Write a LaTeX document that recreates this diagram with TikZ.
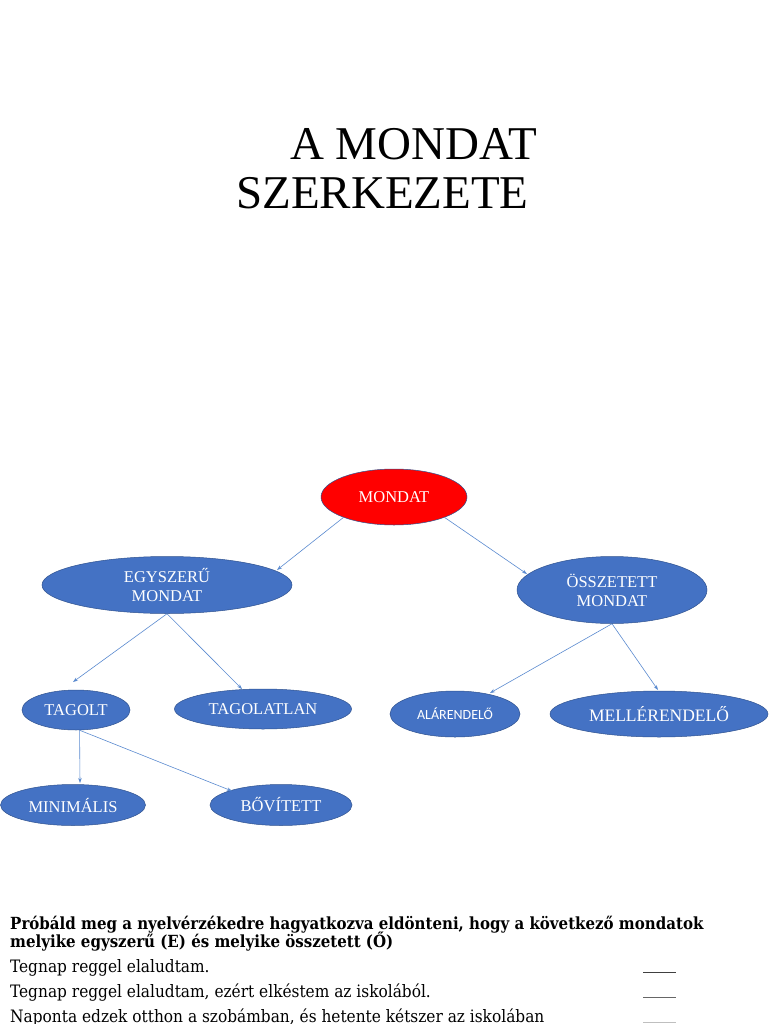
\documentclass[tikz,border=0pt]{standalone}
\usepackage{fontspec}
\setmainfont{Liberation Serif}
\newfontfamily\calib{Carlito}
\newfontfamily\slab{DejaVu Serif Condensed}
\usetikzlibrary{shapes.geometric,arrows.meta}
\definecolor{nodeblue}{HTML}{4472C4}
\definecolor{edgeblue}{HTML}{2F528F}
\definecolor{arrowblue}{HTML}{5B8BD0}
\tikzset{
  bubble/.style={ellipse, draw=edgeblue, line width=0.5pt, fill=nodeblue, text=white,
    inner sep=0pt, align=center, font=\fontsize{16.5}{19}\selectfont},
  link/.style={draw=arrowblue, line width=0.6pt, -{Stealth[length=5pt,width=3.5pt]}},
  title/.style={anchor=base west, inner sep=0pt, font=\fontsize{47}{50}\selectfont},
  boldline/.style={anchor=base west, inner sep=0pt, font=\slab\bfseries\fontsize{16.7}{19}\selectfont},
  plainline/.style={anchor=base west, inner sep=0pt, font=\slab\fontsize{17.1}{19}\selectfont},
  blank/.style={line width=1pt}
}
\begin{document}
\begin{tikzpicture}[x=1pt,y=-1pt]
\useasboundingbox (0,0) rectangle (768,1024);
\fill[white] (0,0) rectangle (768,1024);
% title
\node[title] (t1) at (290,160) {A MONDAT};
\node[title] (t2) at (236,209) {SZERKEZETE};
% nodes
\node[bubble, fill=red, minimum width=146pt, minimum height=56pt] (mondat) at (394,497) {MONDAT};
\node[bubble, minimum width=250pt, minimum height=57pt] (egy) at (167,585) {EGYSZERŰ\\MONDAT};
\node[bubble, minimum width=190pt, minimum height=67pt] (ossz) at (612,590) {ÖSSZETETT\\MONDAT};
\node[bubble, minimum width=108pt, minimum height=40pt] (tagolt) at (76,710) {TAGOLT};
\node[bubble, minimum width=177pt, minimum height=40pt] (tagolatlan) at (263,709) {TAGOLATLAN};
\node[bubble, minimum width=130pt, minimum height=46pt, font=\calib\fontsize{14}{16}\selectfont] (alar) at (455,714) {ALÁRENDELŐ};
\node[bubble, minimum width=218pt, minimum height=46pt, font=\fontsize{17.5}{20}\selectfont] (mell) at (659,714) {MELLÉRENDELŐ};
\node[bubble, minimum width=145pt, minimum height=41pt] (mini) at (73,805) {MINIMÁLIS};
\node[bubble, minimum width=142pt, minimum height=41pt] (bov) at (281,805) {BŐVÍTETT};
% arrow tips
\coordinate (e1) at (277,570);
\coordinate (e2) at (527,574);
\coordinate (e3) at (73,682);
\coordinate (e4) at (242,689);
\coordinate (e5) at (490,693);
\coordinate (e6) at (658,690);
\coordinate (e7) at (80,783);
\coordinate (e8) at (232,791);
\draw[link] (mondat.202) -- (e1);
\draw[link] (mondat.338) -- (e2);
\draw[link] (egy.south) -- (e3);
\draw[link] (egy.south) -- (e4);
\draw[link] (ossz.south) -- (e5);
\draw[link] (ossz.south) -- (e6);
\draw[link] (tagolt.280) -- (e7);
\draw[link] (tagolt.280) -- (e8);
% text
\node[boldline] (q1) at (10,929) {Próbáld meg a nyelvérzékedre hagyatkozva eldönteni, hogy a következő mondatok};
\node[boldline] (q2) at (10,947) {melyike egyszerű (E) és melyike összetett (Ő)};
\node[plainline] (s1) at (10,972) {Tegnap reggel elaludtam.};
\node[plainline] (s2) at (10,997) {Tegnap reggel elaludtam, ezért elkéstem az iskolából.};
\node[plainline] (s3) at (10,1022) {Naponta edzek otthon a szobámban, és hetente kétszer az iskolában};
\coordinate (b1a) at (643,972); \coordinate (b1b) at (676,972);
\coordinate (b2a) at (643,997); \coordinate (b2b) at (676,997);
\coordinate (b3a) at (643,1022); \coordinate (b3b) at (676,1022);
\draw[blank, draw=black!75] (b1a) -- (b1b);
\draw[blank, draw=black!60] (b2a) -- (b2b);
\draw[blank, draw=black!25] (b3a) -- (b3b);
\end{tikzpicture}
\end{document}
